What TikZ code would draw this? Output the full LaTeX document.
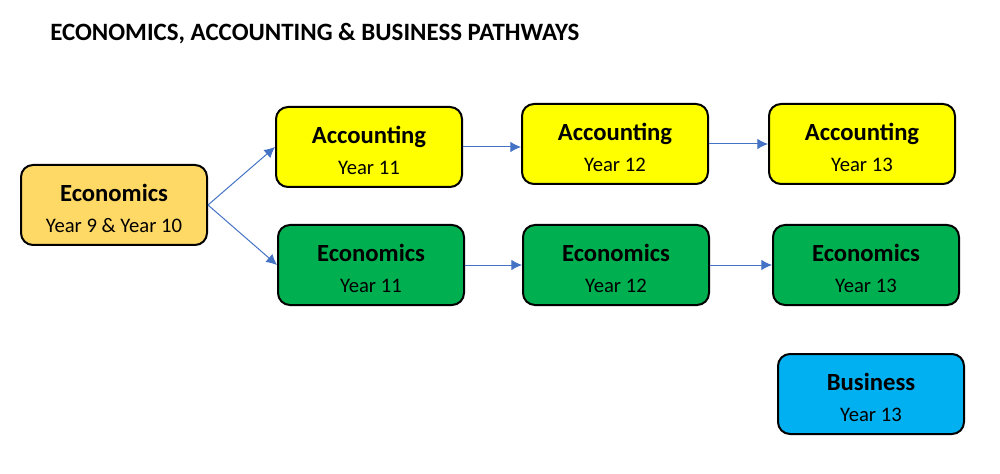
\documentclass[tikz,border=0pt]{standalone}
\usepackage{fontspec}
\setmainfont{Carlito}
\usetikzlibrary{positioning}
\usetikzlibrary{arrows.meta}
\tikzset{>={Latex[width=8pt,length=8pt]}}
\definecolor{goldbox}{HTML}{FFD966}
\definecolor{yellowbox}{HTML}{FFFF00}
\definecolor{greenbox}{HTML}{00B050}
\definecolor{bluebox}{HTML}{00B0F0}
\definecolor{arrowblue}{HTML}{4472C4}
\newcommand{\subj}[1]{\rule{0pt}{18pt}{\bfseries\fontsize{18.5}{23.5}\selectfont #1}}

\begin{document}
\begin{tikzpicture}[x=0.75pt, y=-0.75pt, subject/.style={rectangle, rounded corners=9pt, draw=black, line width=1.5pt, minimum width=139.5pt, minimum height=60pt, align=center, font=\fontsize{15.5}{23.5}\selectfont}, link/.style={->, draw=arrowblue, line width=0.75pt}, heading/.style={draw=none, fill=none, inner sep=0pt, font=\bfseries\fontsize{18.7}{20}\selectfont}]
    \useasboundingbox (0,0) rectangle (1000,474);
    
    %Nodes
    \node[heading, anchor=west](title) at (50,34){ECONOMICS, ACCOUNTING \& BUSINESS PATHWAYS};
    \node[subject, fill=goldbox](econ10) at (114,205){\subj{Economics}\\Year 9 \& Year 10};
    \node[subject, fill=yellowbox](acc11) at (369,147){\subj{Accounting}\\Year 11};
    \node[subject, fill=greenbox](econ11) at (371,265){\subj{Economics}\\Year 11};
    \node[subject, fill=yellowbox](acc12) at (615,144){\subj{Accounting}\\Year 12};
    \node[subject, fill=greenbox](econ12) at (616,265){\subj{Economics}\\Year 12};
    \node[subject, fill=yellowbox](acc13) at (862,144){\subj{Accounting}\\Year 13};
    \node[subject, fill=greenbox](econ13) at (866,265){\subj{Economics}\\Year 13};
    \node[subject, fill=bluebox](bus13) at (871,394){\subj{Business}\\Year 13};
    
    %Lines
    \draw[link] (econ10.east) -- (acc11.west);
    \draw[link] (econ10.east) -- (econ11.west);
    \draw[link] (acc11.east) -- (acc11.east -| acc12.west);
    \draw[link] (econ11.east) -- (econ12.west);
    \draw[link] (acc12.east) -- (acc12.east -| acc13.west);
    \draw[link] (econ12.east) -- (econ13.west);
    
\end{tikzpicture}
\end{document}
